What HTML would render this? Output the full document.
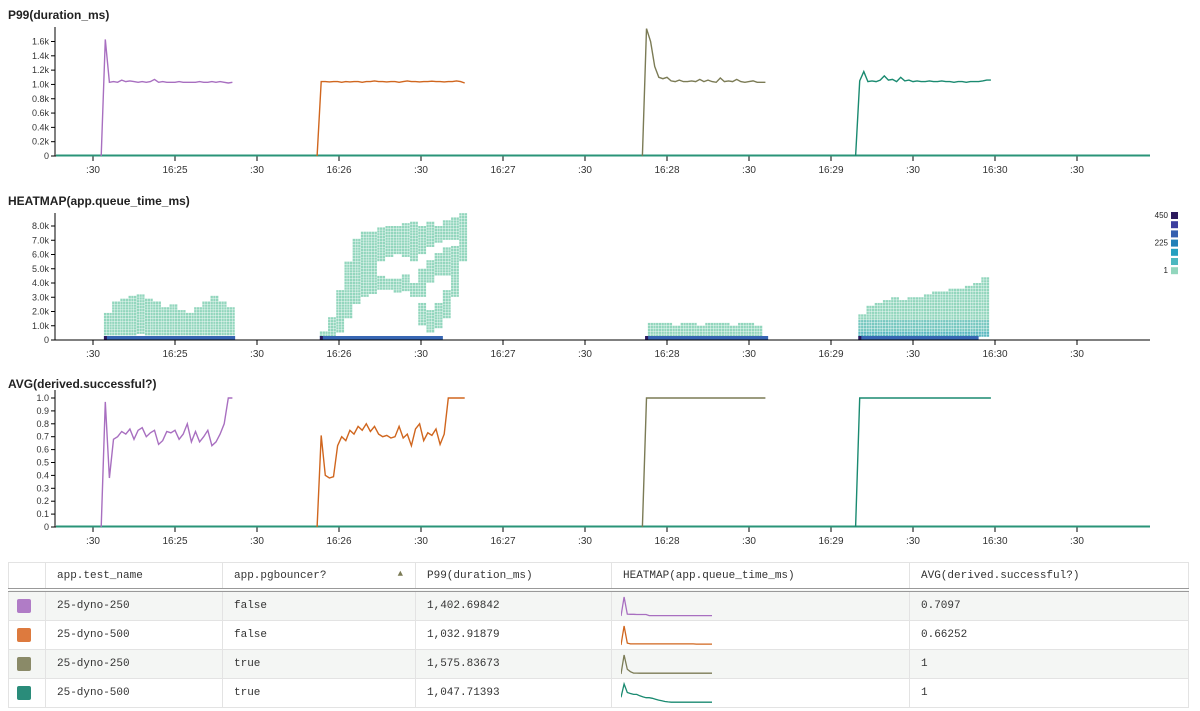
<!DOCTYPE html>
<html><head><meta charset="utf-8">
<style>
body{margin:0;background:#fff;width:1200px;height:711px;overflow:hidden;font-family:"Liberation Sans",sans-serif;}
#charts{position:absolute;left:0;top:0;}
.tbl{position:absolute;left:8px;top:562px;width:1181px;border-collapse:collapse;font-family:"Liberation Mono",monospace;font-size:11px;color:#333;}
.tbl td{border:1px solid #e3e3e3;padding:0 0 0 11px;height:28px;white-space:nowrap;}
.tbl tr.h td{height:25px;border-bottom:4px double #999;}
.tbl tr.alt td{background:#f4f6f4;}
.sw{width:14px;height:14px;border-radius:2px;display:inline-block;vertical-align:middle;margin-left:-3px}
</style></head><body>
<svg id="charts" width="1200" height="560"></svg>
<table class="tbl">
<colgroup><col style="width:37px"><col style="width:177px"><col style="width:193px"><col style="width:196px"><col style="width:298px"><col></colgroup>
<tr class="h"><td></td><td>app.test_name</td><td style="position:relative">app.pgbouncer?<span style="position:absolute;right:12px;top:6px;color:#7b7b55;font-size:9px">▲</span></td><td>P99(duration_ms)</td><td>HEATMAP(app.queue_time_ms)</td><td>AVG(derived.successful?)</td></tr>
<tr class="alt"><td><span class="sw" style="background:#b07cc6"></span></td><td>25-dyno-250</td><td>false</td><td>1,402.69842</td><td><svg id="sp0" width="100" height="26"></svg></td><td>0.7097</td></tr>
<tr><td><span class="sw" style="background:#dd7a3e"></span></td><td>25-dyno-500</td><td>false</td><td>1,032.91879</td><td><svg id="sp1" width="100" height="26"></svg></td><td>0.66252</td></tr>
<tr class="alt"><td><span class="sw" style="background:#8a8a68"></span></td><td>25-dyno-250</td><td>true</td><td>1,575.83673</td><td><svg id="sp2" width="100" height="26"></svg></td><td>1</td></tr>
<tr><td><span class="sw" style="background:#2a8c7a"></span></td><td>25-dyno-500</td><td>true</td><td>1,047.71393</td><td><svg id="sp3" width="100" height="26"></svg></td><td>1</td></tr>
</table>
<script>
// time in seconds since 16:24:00
const seriesColors=['#a86fc0','#d0661e','#7b7b55','#1a8a70'];
const seriesStart=[33,112,231,309];
const sampleStep=1.5;
const xTickTimes=[30,60,90,120,150,180,210,240,270,300,330,360,390];
const xTickLabels=[':30','16:25',':30','16:26',':30','16:27',':30','16:28',':30','16:29',':30','16:30',':30'];
const p99Purple=[0,1630,1030,1040,1030,1060,1040,1050,1040,1030,1040,1030,1040,1070,1030,1040,1030,1030,1030,1040,1030,1030,1030,1030,1040,1030,1030,1040,1030,1040,1030,1020,1030];
const p99Orange=[0,1040,1040,1035,1040,1040,1030,1040,1035,1040,1040,1030,1040,1040,1050,1040,1040,1035,1040,1040,1030,1040,1050,1040,1040,1035,1040,1040,1045,1040,1040,1035,1040,1040,1050,1040,1020];
const p99Olive=[0,1780,1600,1250,1100,1080,1100,1050,1040,1060,1040,1040,1050,1040,1070,1040,1060,1040,1030,1090,1040,1050,1040,1070,1040,1030,1040,1050,1030,1030,1030];
const p99Teal=[0,1050,1180,1040,1050,1040,1060,1120,1060,1070,1040,1100,1050,1060,1040,1050,1040,1040,1050,1040,1040,1050,1040,1040,1030,1040,1040,1030,1040,1040,1040,1050,1060,1060];
const avgPurple=[0,0.97,0.38,0.68,0.70,0.74,0.72,0.76,0.68,0.75,0.77,0.70,0.73,0.75,0.64,0.67,0.74,0.73,0.75,0.68,0.72,0.80,0.66,0.74,0.66,0.70,0.75,0.63,0.66,0.72,0.80,1.0,1.0];
const avgOrange=[0,0.71,0.40,0.38,0.39,0.63,0.70,0.67,0.75,0.72,0.78,0.75,0.80,0.74,0.78,0.72,0.70,0.71,0.69,0.70,0.78,0.69,0.72,0.63,0.76,0.80,0.67,0.73,0.71,0.76,0.64,0.72,1,1,1,1,1];
const avgOlive=[0,1,1,1,1,1,1,1,1,1,1,1,1,1,1,1,1,1,1,1,1,1,1,1,1,1,1,1,1,1,1];
const avgTeal=[0,1,1,1,1,1,1,1,1,1,1,1,1,1,1,1,1,1,1,1,1,1,1,1,1,1,1,1,1,1,1,1,1,1];
const p99Ticks=[0,200,400,600,800,1000,1200,1400,1600];
const p99TickLabels=['0','0.2k','0.4k','0.6k','0.8k','1.0k','1.2k','1.4k','1.6k'];
const hmTicks=[0,1000,2000,3000,4000,5000,6000,7000,8000];
const hmTickLabels=['0','1.0k','2.0k','3.0k','4.0k','5.0k','6.0k','7.0k','8.0k'];
const avgTicks=[0,0.1,0.2,0.3,0.4,0.5,0.6,0.7,0.8,0.9,1.0];
const avgTickLabels=['0','0.1','0.2','0.3','0.4','0.5','0.6','0.7','0.8','0.9','1.0'];
// heatmap: column start time (3s wide) and value bands [lo,hi]
const hmColStep=3;
const hmPurpleStart=34;
const hmPurpleBands=[[[300,1800]],[[300,2600]],[[300,2900]],[[300,3100]],[[400,3100]],[[300,2900]],[[300,2600]],[[300,2200]],[[300,2400]],[[300,2100]],[[300,1800]],[[300,2300]],[[300,2600]],[[300,3000]],[[300,2700]],[[300,2300]]];
const hmOrangeStart=113;
const hmOrangeBands=[[[200,600]],[[200,1500]],[[500,3500]],[[1500,5500]],[[2500,7000]],[[3000,7500]],[[3200,7600]],[[3500,4500],[5500,7800]],[[3500,4200],[5800,8000]],[[3300,4200],[6000,8000]],[[3400,4500],[5800,8200]],[[3000,4000],[5500,8200]],[[1000,2500],[3000,5000],[6000,8000]],[[500,2000],[4000,5500],[6500,8200]],[[800,2500],[4500,6000],[6800,8000]],[[1500,3500],[4500,6500],[7000,8400]],[[3000,6500],[7000,8500]],[[5500,8800]]];
const hmOliveStart=233;
const hmOliveBands=[[[200,1200]],[[200,1100]],[[200,1200]],[[200,1000]],[[200,1100]],[[200,1200]],[[200,1000]],[[200,1100]],[[200,1200]],[[200,1100]],[[200,1000]],[[200,1200]],[[200,1100]],[[200,1000]]];
const hmTealStart=310;
const hmTealBands=[[[200,1800]],[[200,2400]],[[200,2600]],[[200,2800]],[[200,2900]],[[200,2800]],[[200,3000]],[[200,3000]],[[200,3200]],[[200,3400]],[[200,3300]],[[200,3600]],[[200,3500]],[[200,3800]],[[200,4000]],[[200,4400]]];
const hmBaseRows=[[34,82],[113,158],[232,277],[310,354]];
const legendLabels=['450','','','225','','','1'];
const legendColors=['#2d1a5e','#3d3f9f','#3560b0','#2180b8','#25a0c0','#4cb8c0','#92d6bd'];
// sparklines (normalized)
const spPurple=[0,1,0.1,0.09,0.09,0.08,0.08,0.08,0.08,0.02,0.02,0.02,0.02,0.02,0.02,0.02,0.02,0.02,0.02,0.02,0.02,0.02,0.02,0.02,0.02,0.02,0.02,0.02,0.02,0.02];
const spOrange=[0,1,0.1,0.06,0.06,0.06,0.06,0.06,0.06,0.06,0.06,0.06,0.06,0.06,0.06,0.06,0.06,0.06,0.06,0.06,0.06,0.06,0.06,0.06,0.05,0.05,0.05,0.05,0.05,0.05];
const spOlive=[0,1,0.25,0.12,0.05,0.05,0.04,0.04,0.04,0.04,0.04,0.04,0.04,0.04,0.04,0.04,0.04,0.04,0.04,0.04,0.04,0.04,0.04,0.04,0.04,0.04,0.04,0.04,0.04,0.04];
const spTeal=[0.3,1,0.55,0.5,0.45,0.45,0.38,0.32,0.28,0.28,0.25,0.2,0.15,0.12,0.08,0.06,0.04,0.04,0.04,0.04,0.04,0.04,0.04,0.04,0.04,0.04,0.04,0.04,0.04,0.04];

const NS='http://www.w3.org/2000/svg';
const svg=document.getElementById('charts');
function mk(tag,attrs,parent){const e=document.createElementNS(NS,tag);for(const k in attrs)e.setAttribute(k,attrs[k]);(parent||svg).appendChild(e);return e;}
const X0=55,X1=1150;
function xs(t){return 93+(t-30)*82/30;}
const panels=[
 {title:'P99(duration_ms)',ty:19,top:27,base:156,max:1600,maxY:41.5,ticks:p99Ticks,labels:p99TickLabels,name:'p99'},
 {title:'HEATMAP(app.queue_time_ms)',ty:205,top:213,base:340,max:8000,maxY:226,ticks:hmTicks,labels:hmTickLabels,name:'heatmap'},
 {title:'AVG(derived.successful?)',ty:388,top:390,base:527,max:1,maxY:398,ticks:avgTicks,labels:avgTickLabels,name:'avg'}];
panels.forEach(p=>{
 p.y=v=>p.base-(v/p.max)*(p.base-p.maxY);
 const g=mk('g',{});
 
 
 const t=mk('text',{x:8,y:p.ty,'font-size':12,'font-weight':'bold',fill:'#222'},g);t.textContent=p.title;
 
 
 mk('line',{x1:X0,y1:p.top,x2:X0,y2:p.base,stroke:'#000','stroke-width':1},g);
 mk('line',{x1:X0,y1:p.base,x2:X1,y2:p.base,stroke:'#000','stroke-width':1},g);
 p.ticks.forEach((v,i)=>{const yy=p.y(v);mk('line',{x1:X0-4,y1:yy,x2:X0,y2:yy,stroke:'#000'},g);
  const l=mk('text',{x:X0-6,y:yy+3,'font-size':9,'text-anchor':'end',fill:'#333'},g);l.textContent=p.labels[i];
  
  });
 xTickTimes.forEach((tt,i)=>{const xx=xs(tt);mk('line',{x1:xx,y1:p.base,x2:xx,y2:p.base+5,stroke:'#000'},g);
  const l=mk('text',{x:xx,y:p.base+17,'font-size':10,'text-anchor':'middle',fill:'#333'},g);l.textContent=xTickLabels[i];
  
  });
});
function drawLines(p,arrs){
 mk('line',{x1:X0+1,y1:p.base-0.5,x2:X1,y2:p.base-0.5,stroke:'#2a9478','stroke-width':2});
 arrs.forEach((a,si)=>{
  const pts=a.map((v,i)=>xs(seriesStart[si]+i*sampleStep).toFixed(1)+','+p.y(v).toFixed(1)).join(' ');
  const pl=mk('polyline',{points:pts,fill:'none',stroke:seriesColors[si],'stroke-width':1.4});
  
  
 });
}
drawLines(panels[0],[p99Purple,p99Orange,p99Olive,p99Teal]);
drawLines(panels[2],[avgPurple,avgOrange,avgOlive,avgTeal]);
// heatmap
const hp=panels[1];
const hg=mk('g',{});


const cw=82/30;const bucket=200;
[[hmPurpleStart,hmPurpleBands,0],[hmOrangeStart,hmOrangeBands,0],[hmOliveStart,hmOliveBands,0],[hmTealStart,hmTealBands,1400]].forEach(([st,cols,dense])=>{
 cols.forEach((bands,ci)=>{
  for(let s=0;s<hmColStep;s++){
   const t=st+ci*hmColStep+s;
   bands.forEach(([lo,hi])=>{
    for(let v=lo;v<hi;v+=bucket){
     mk('rect',{x:xs(t),y:hp.y(v+bucket),width:cw-0.4,height:(hp.base-hp.maxY)*bucket/hp.max-0.4,fill:(v<dense?(v<600?'#5ab8c0':'#78c8c0'):'#92d6bd')},hg);
    }
   });
  }
 });
});
hmBaseRows.forEach(([a,b],i)=>{
 const r=mk('rect',{x:xs(a),y:hp.base-4,width:xs(b)-xs(a),height:3.5,fill:'#3766b3'},hg);
 
 
 mk('rect',{x:xs(a),y:hp.base-4,width:3,height:3.5,fill:'#2d1a5e'},hg);
});
const lg=mk('g',{});


legendColors.forEach((c,i)=>{
 mk('rect',{x:1171,y:212+i*9.2,width:7,height:7,fill:c},lg);
 if(legendLabels[i]){const t=mk('text',{x:1168,y:218+i*9.2,'font-size':8,'text-anchor':'end',fill:'#222'},lg);t.textContent=legendLabels[i];}
});
// sparklines
[spPurple,spOrange,spOlive,spTeal].forEach((a,si)=>{
 const s=document.getElementById('sp'+si);
 const pts=a.map((v,i)=>(i*91/(a.length-1)).toFixed(1)+','+(23-v*19).toFixed(1)).join(' ');
 const pl=document.createElementNS(NS,'polyline');
 pl.setAttribute('points',pts);pl.setAttribute('fill','none');pl.setAttribute('stroke',seriesColors[si]);pl.setAttribute('stroke-width','1.3');
 
 
 s.appendChild(pl);
 s.style.marginLeft='-2px';s.style.verticalAlign='middle';
});
</script>
</body></html>
